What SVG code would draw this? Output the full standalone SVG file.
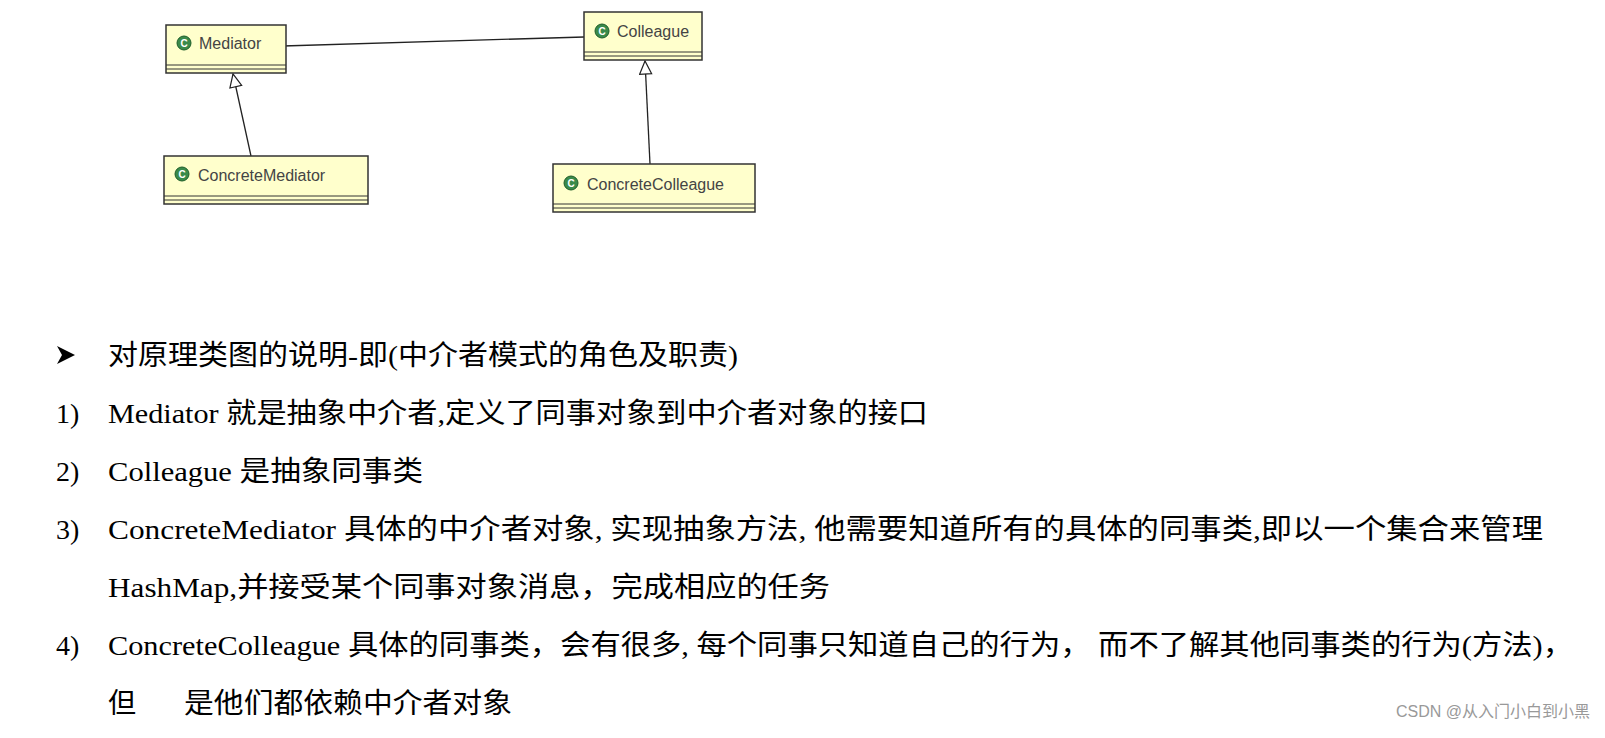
<svg xmlns="http://www.w3.org/2000/svg" width="1605" height="738" viewBox="0 0 1605 738">
<style>
.box{fill:#ffffcc;stroke:#333;stroke-width:1.5}
.sep{stroke:#333;stroke-width:1}
.cn{font-family:"Liberation Sans","DejaVu Sans",sans-serif;font-size:16px;fill:#444}
.ic{fill:#3a8a4a;stroke:#1e5e2a;stroke-width:1}
.icl{font-family:"Liberation Sans",sans-serif;font-size:10px;font-weight:bold;fill:#fff}
.t{font-family:"Liberation Serif","Noto Sans CJK SC",serif;font-size:28px;fill:#000}
.wm{font-family:"Liberation Sans","Noto Sans CJK SC",sans-serif;font-size:16px;fill:#999}
.ln{stroke:#222;stroke-width:1.3;fill:none}
</style>
<defs>
<marker id="tri" markerWidth="16" markerHeight="14" refX="14" refY="7" orient="auto" markerUnits="userSpaceOnUse">
<path d="M1,1 L14,7 L1,13 Z" fill="#fff" stroke="#222" stroke-width="1.2"/>
</marker>
</defs>
<rect width="1605" height="738" fill="#fff"/>
<g id="connectors">
<line class="ln" x1="283" y1="46" x2="584" y2="37"/>
<line class="ln" x1="251" y1="156" x2="233" y2="74" marker-end="url(#tri)"/>
<line class="ln" x1="650" y1="164" x2="645" y2="61" marker-end="url(#tri)"/>
</g>
<g id="mediator">
<rect class="box" x="166" y="25" width="120" height="48"/>
<line class="sep" x1="166" y1="65" x2="286" y2="65"/><line class="sep" x1="166" y1="69" x2="286" y2="69"/>
<circle class="ic" cx="184" cy="43" r="7"/><text class="icl" x="184" y="47" text-anchor="middle">C</text>
<text class="cn" x="199" y="49">Mediator</text>
</g>
<g id="colleague">
<rect class="box" x="584" y="12" width="118" height="48"/>
<line class="sep" x1="584" y1="52" x2="702" y2="52"/><line class="sep" x1="584" y1="56" x2="702" y2="56"/>
<circle class="ic" cx="602" cy="31" r="7"/><text class="icl" x="602" y="35" text-anchor="middle">C</text>
<text class="cn" x="617" y="37">Colleague</text>
</g>
<g id="concreteMediator">
<rect class="box" x="164" y="156" width="204" height="48"/>
<line class="sep" x1="164" y1="196" x2="368" y2="196"/><line class="sep" x1="164" y1="200" x2="368" y2="200"/>
<circle class="ic" cx="182" cy="174" r="7"/><text class="icl" x="182" y="178" text-anchor="middle">C</text>
<text class="cn" x="198" y="181">ConcreteMediator</text>
</g>
<g id="concreteColleague">
<rect class="box" x="553" y="164" width="202" height="48"/>
<line class="sep" x1="553" y1="204" x2="755" y2="204"/><line class="sep" x1="553" y1="208" x2="755" y2="208"/>
<circle class="ic" cx="571" cy="183" r="7"/><text class="icl" x="571" y="187" text-anchor="middle">C</text>
<text class="cn" x="587" y="190">ConcreteColleague</text>
</g>
<g id="text">
<path d="M57,346 L75,355 L57,364 L62,355 Z" fill="#000"/>
<text class="t" x="108" y="365" textLength="630" lengthAdjust="spacingAndGlyphs">对原理类图的说明-即(中介者模式的角色及职责)</text>
<text class="t" x="56" y="423">1)</text><text class="t" x="108" y="423" textLength="820" lengthAdjust="spacingAndGlyphs">Mediator  就是抽象中介者,定义了同事对象到中介者对象的接口</text>
<text class="t" x="56" y="481">2)</text><text class="t" x="108" y="481" textLength="315" lengthAdjust="spacingAndGlyphs">Colleague  是抽象同事类</text>
<text class="t" x="56" y="539">3)</text><text class="t" x="108" y="539" textLength="1435" lengthAdjust="spacingAndGlyphs">ConcreteMediator  具体的中介者对象, 实现抽象方法, 他需要知道所有的具体的同事类,即以一个集合来管理</text>
<text class="t" x="108" y="597" textLength="722" lengthAdjust="spacingAndGlyphs">HashMap,并接受某个同事对象消息，完成相应的任务</text>
<text class="t" x="56" y="655">4)</text><text class="t" x="108" y="655" textLength="1465" lengthAdjust="spacingAndGlyphs">ConcreteColleague  具体的同事类，会有很多, 每个同事只知道自己的行为， 而不了解其他同事类的行为(方法)，</text>
<text class="t" x="108" y="713">但</text><text class="t" x="184" y="713" textLength="328" lengthAdjust="spacingAndGlyphs">是他们都依赖中介者对象</text>
<text class="wm" x="1590" y="717" text-anchor="end">CSDN @从入门小白到小黑</text>
</g>
</svg>
